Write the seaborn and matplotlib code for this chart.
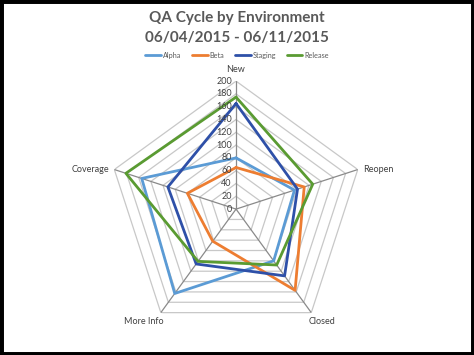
import numpy as np
import pandas as pd
import matplotlib.pyplot as plt
import seaborn as sns
from matplotlib.lines import Line2D

categories = ['New', 'Reopen', 'Closed', 'More Info', 'Coverage']
series = ['Alpha', 'Beta', 'Staging', 'Release']
alpha = [80, 96, 100, 163, 155]
beta = [65, 112, 157, 62, 80]
staging = [165, 101, 129, 106, 112]
release = [175, 126, 108, 101, 181]
ticks = [0, 20, 40, 60, 80, 100, 120, 140, 160, 180, 200]
colors = ['#5B9BD5', '#ED7D31', '#2E50A8', '#5A9B32']

sns.set_style('white')
plt.rcParams['font.family'] = ['Lato', 'DejaVu Sans']

angles = np.linspace(0, 2 * np.pi, len(categories), endpoint=False)
rows = []
for name, vals in zip(series, [alpha, beta, staging, release]):
    for i, v in enumerate(vals + vals[:1]):
        ang = angles[i] if i < len(categories) else 2 * np.pi
        rows.append({'series': name, 'angle': ang, 'value': v})
df = pd.DataFrame(rows)

fig = plt.figure(figsize=(4.74, 3.55), dpi=100)
ax = fig.add_axes([0.498 - 0.27, 0.411 - 0.3606, 0.54, 0.7212], projection='polar')
ax.set_theta_offset(np.pi / 2)
ax.set_theta_direction(-1)

# polygon grid + spokes
ang_closed = np.append(angles, 2 * np.pi)
for t in ticks[1:]:
    ax.plot(ang_closed, [t] * len(ang_closed), color='#C8C8C8', lw=0.9, zorder=1)
for a in angles:
    ax.plot([a, a], [0, ticks[-1]], color='#8A8A8A', lw=0.9, zorder=1)

sns.lineplot(data=df, x='angle', y='value', hue='series', palette=colors,
             sort=False, lw=2.0, ax=ax, legend=False, zorder=3)

ax.set_ylim(0, 200)
ax.grid(False)
ax.spines['polar'].set_visible(False)
ax.set_xticks([])
ax.set_yticks([])
ax.set_xlabel('')
ax.set_ylabel('')

# radial tick labels along the New axis
for t in ticks:
    ax.annotate(str(t), xy=(0, t), xytext=(-3, 0), textcoords='offset points',
                ha='right', va='center', fontsize=6.5, color='#404040')

# category labels
lab_pos = [(0, 'center', 'bottom', (0, 5)), (1, 'left', 'center', (4, 0)),
           (2, 'left', 'top', (-2, -3)), (3, 'right', 'top', (2, -3)),
           (4, 'right', 'center', (-4, 0))]
for i, ha, va, off in lab_pos:
    ax.annotate(categories[i], xy=(angles[i], 200), xytext=off, textcoords='offset points',
                ha=ha, va=va, fontsize=6.5, color='#404040')

fig.text(0.5, 0.968, 'QA Cycle by Environment\n06/04/2015 - 06/11/2015', ha='center', va='top',
         fontsize=11, fontweight='bold', color='#595959', linespacing=1.55)

handles = [Line2D([0], [0], color=c, lw=2) for c in colors]
fig.legend(handles, series, loc='center', bbox_to_anchor=(0.5, 0.845), ncol=4, frameon=False,
           fontsize=5.2, handlelength=2.2, handletextpad=0.2, columnspacing=1.5,
           labelcolor='#595959')

fig.patches.append(plt.Rectangle((0, 0), 1, 1, transform=fig.transFigure, fill=False,
                                 edgecolor='black', lw=5, zorder=10))

fig.savefig('out.png', dpi=100)
